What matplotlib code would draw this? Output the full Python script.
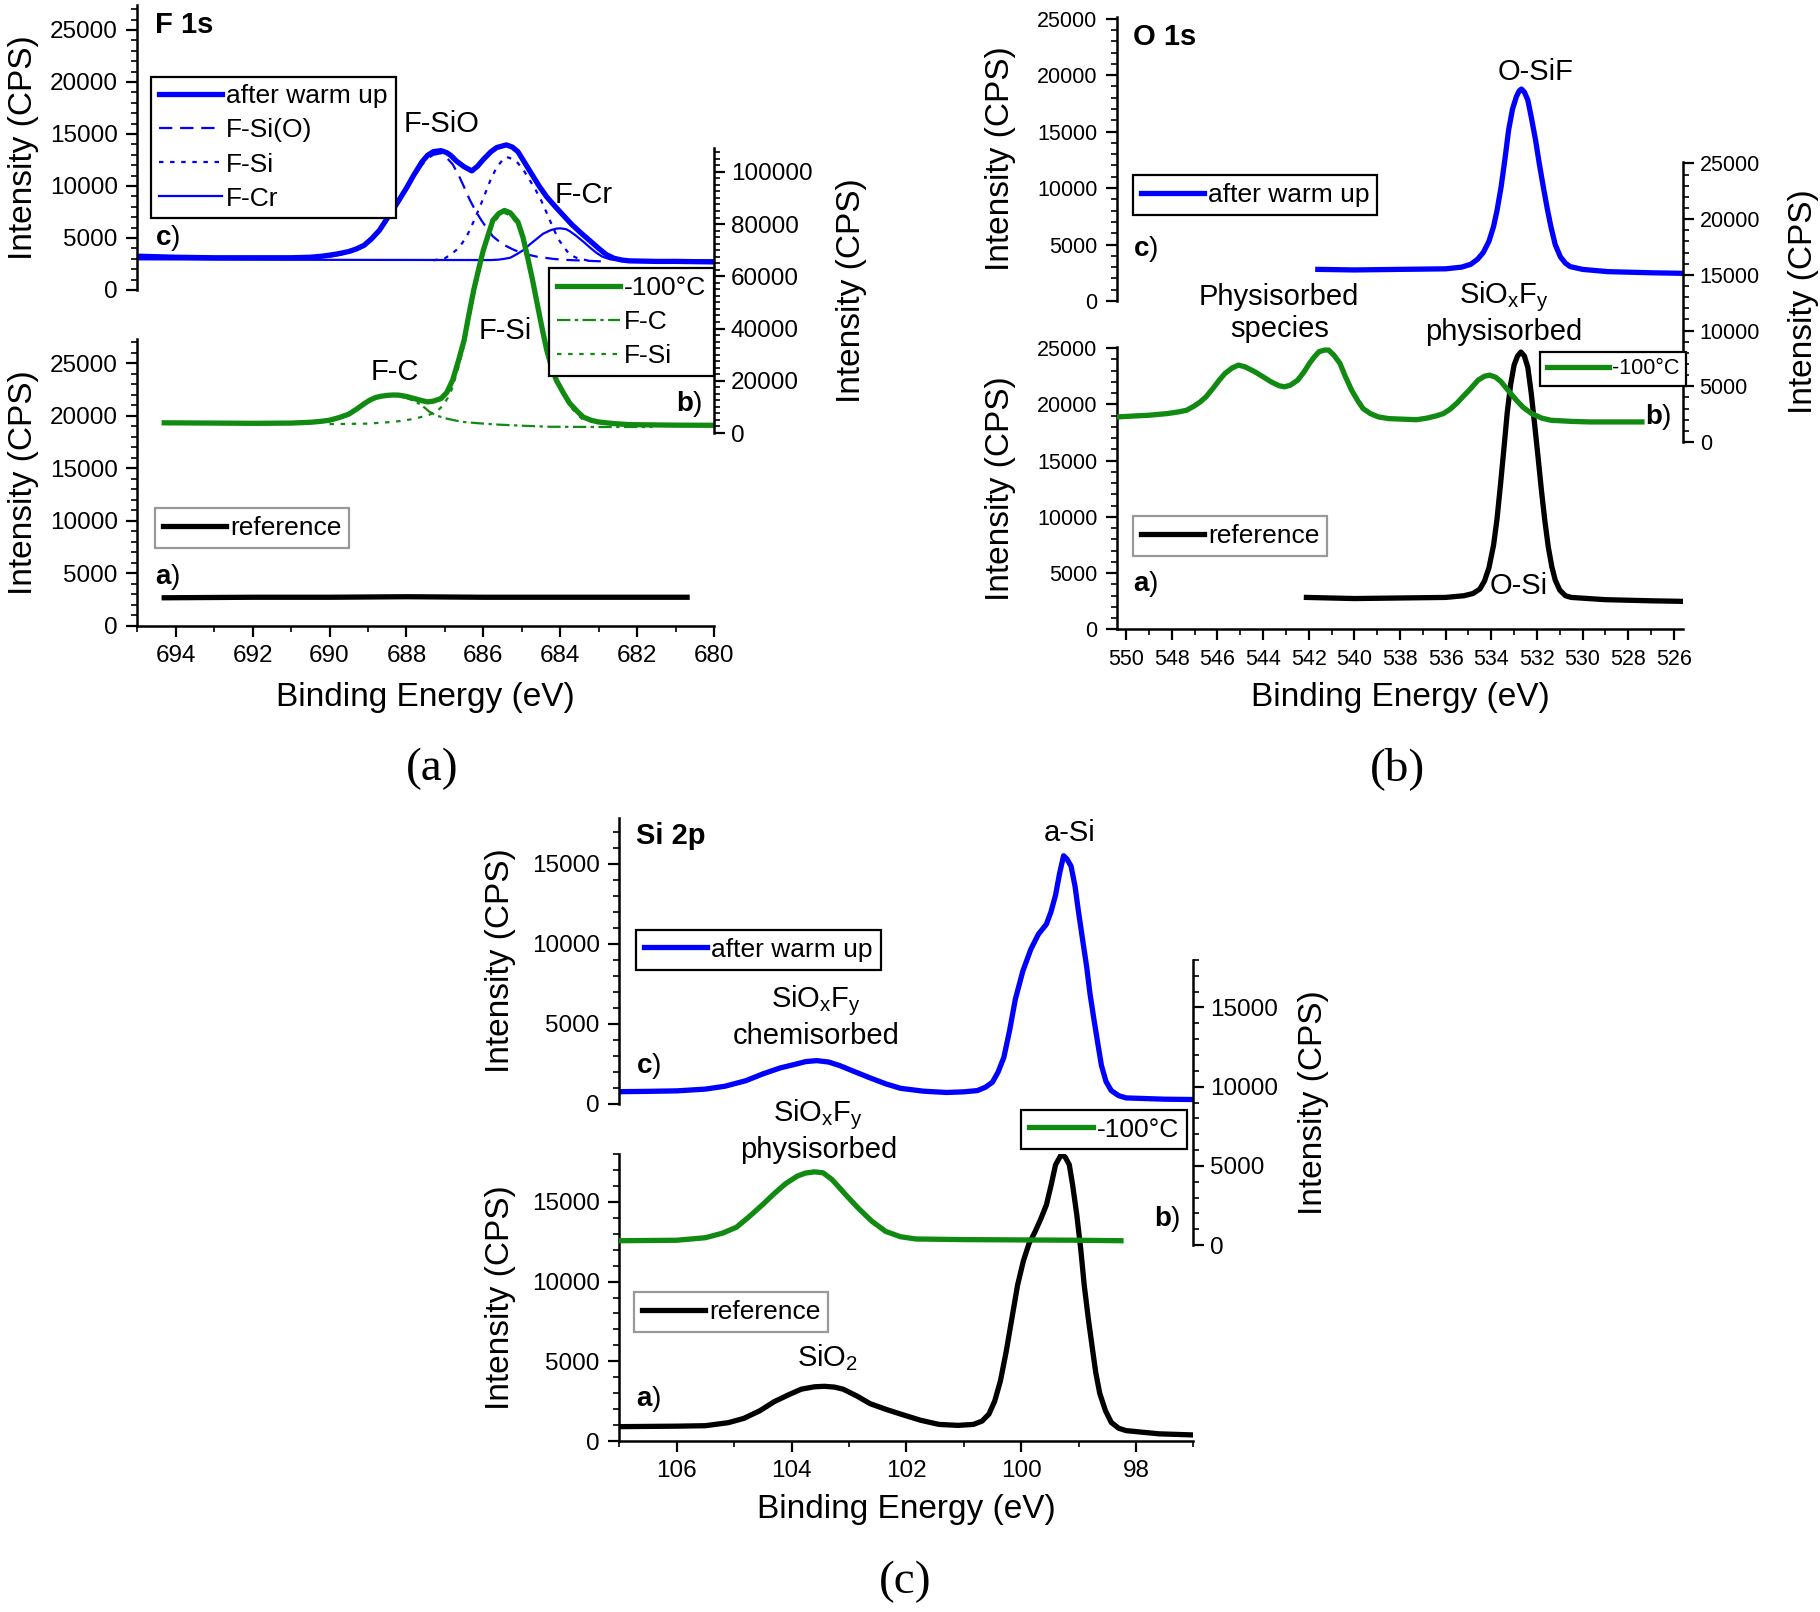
import matplotlib
matplotlib.use("Agg")
import matplotlib.pyplot as plt
from matplotlib.ticker import MultipleLocator, FormatStrFormatter

plt.rcParams['font.family'] = 'Liberation Sans'
plt.rcParams['mathtext.fontset'] = 'custom'
plt.rcParams['mathtext.rm'] = 'Liberation Sans'
plt.rcParams['mathtext.it'] = 'Liberation Sans:italic'
plt.rcParams['mathtext.bf'] = 'Liberation Sans:bold'

BLUE = '#0000ff'
GREEN = '#118a11'

# ---------------- F 1s ----------------
f_warm_x = [695, 694, 693, 692, 691, 690.5, 690.2, 690, 689.75, 689.5, 689.3, 689.1, 688.9, 688.7, 688.5, 688.25,
            688.0, 687.8, 687.6, 687.45, 687.3, 687.1, 686.95, 686.85, 686.7, 686.5, 686.3, 686.15, 686.0, 685.8,
            685.65, 685.4, 685.25, 685.1, 684.95, 684.75, 684.55, 684.35, 684.1, 683.9, 683.7, 683.45, 683.2, 683.0,
            682.8, 682.6, 682.4, 682.2, 681.5, 681, 680]
f_warm_y = [3250, 3150, 3100, 3100, 3100, 3150, 3250, 3350, 3500, 3700, 3950, 4300, 4950, 5750, 6900, 8300,
            9800, 11100, 12300, 12950, 13300, 13400, 13200, 12950, 12400, 11850, 11450, 11900, 12550, 13300,
            13700, 13950, 13750, 13300, 12400, 11200, 10000, 8950, 7900, 7100, 6300, 5450, 4650, 4000,
            3400, 3050, 2880, 2800, 2750, 2750, 2700]
f_sio_x = [690, 689.5, 689.1, 688.9, 688.7, 688.5, 688.25, 688.0, 687.8, 687.6, 687.45, 687.3, 687.1, 686.95,
           686.8, 686.65, 686.5, 686.35, 686.2, 686.05, 685.9, 685.75, 685.5, 685.2, 684.9, 684.6, 684.2, 683.9, 682.9]
f_sio_y = [3200, 3550, 4200, 4800, 5600, 6700, 8150, 9600, 10900, 12000, 12650, 13000, 13150, 12700,
           12100, 11100, 9900, 8650, 7600, 6700, 5900, 5150, 4400, 3850, 3450, 3200, 3000, 2900, 2750]
f_si_c_x = [687.3, 687.0, 686.85, 686.7, 686.55, 686.4, 686.25, 686.1, 685.95, 685.8, 685.65, 685.5, 685.4,
            685.25, 685.1, 684.95, 684.8, 684.65, 684.5, 684.35, 684.2, 684.05, 683.9, 683.75, 683.55, 683.3, 683.1]
f_si_c_y = [2850, 3050, 3400, 3850, 4500, 5400, 6600, 7900, 9300, 10700, 11800, 12500, 12800,
            12600, 12200, 11500, 10600, 9700, 8650, 7400, 6100, 4900, 4100, 3400, 3050, 2850, 2800]
f_cr_x = [695, 690, 686, 685.8, 685.6, 685.45, 685.3, 685.15, 684.95, 684.8, 684.6, 684.45, 684.25, 684.1, 684.0,
          683.85, 683.75, 683.6, 683.4, 683.2, 683.05, 682.9, 682.7, 682.5, 682, 680]
f_cr_y = [2950, 2900, 2880, 2880, 2920, 3000, 3100, 3400, 3850, 4350, 4950, 5400, 5750, 5900, 5930,
          5850, 5650, 5250, 4650, 4000, 3550, 3200, 2950, 2880, 2850, 2850]

f_cold_x = [694.3, 693, 692, 691, 690.5, 690.2, 690, 689.75, 689.5, 689.3, 689.1, 688.95, 688.8, 688.65, 688.5,
            688.35, 688.2, 688.0, 687.8, 687.6, 687.45, 687.3, 687.1, 686.95, 686.8, 686.65, 686.5, 686.38, 686.25,
            686.12, 686.0, 685.87, 685.75, 685.6, 685.45, 685.3, 685.1, 684.97, 684.85, 684.72, 684.6, 684.47,
            684.35, 684.22, 684.1, 683.9, 683.75, 683.55, 683.4, 683.2, 683.0, 682.6, 682.2, 681, 680]
f_cold_y = [3900, 3800, 3700, 3800, 4100, 4500, 4900, 5900, 7200, 9100, 11200, 12600, 13600, 14100, 14400,
            14550, 14500, 14000, 13200, 12400, 11900, 12200, 13200, 15500, 20200, 27500, 35500, 45000, 54700,
            62800, 70000, 76000, 81500, 84000, 85200, 84300, 80800, 75000, 67400, 58600, 49600, 40000,
            31700, 25000, 20200, 14900, 11300, 8200, 6100, 4900, 4200, 3600, 3200, 3000, 2950]
f_c_x = [690, 689.75, 689.5, 689.3, 689.1, 688.95, 688.8, 688.65, 688.5, 688.35, 688.2, 688.0, 687.8, 687.6,
         687.4, 687.2, 686.95, 686.7, 686.5, 686.1, 685.6, 685.0, 684.3, 683, 681.6]
f_c_y = [4600, 5600, 7000, 8900, 11000, 12400, 13300, 13900, 14200, 14300, 14100, 13400, 12300, 10600,
         8100, 6600, 5500, 4700, 4200, 3700, 3200, 2800, 2400, 2300, 2300]
f_si_b_x = [690, 689, 688.3, 687.8, 687.4, 687.2, 687.05, 686.9, 686.8, 686.65, 686.5, 686.38, 686.25, 686.12,
            686.0, 685.87, 685.75, 685.6, 685.45, 685.3, 685.1, 684.97, 684.85, 684.72, 684.6, 684.47, 684.35,
            684.22, 684.1, 683.9, 683.75, 683.55, 683.4]
f_si_b_y = [3400, 3600, 4300, 5400, 7000, 8400, 10500, 14000, 17500, 25000, 33500, 43000, 52700, 61000,
            68500, 74500, 80000, 83000, 84200, 83300, 79800, 74000, 66500, 57800, 48900, 39300, 31000,
            24300, 19500, 14000, 10300, 7000, 5000]

f_ref_x = [694.3, 692, 690, 688, 686, 684, 682, 680.7]
f_ref_y = [2650, 2700, 2700, 2750, 2700, 2700, 2700, 2700]

# ---------------- O 1s ----------------
o_warm_x = [541.6, 540, 538, 536, 535.3, 534.9, 534.6, 534.35, 534.1, 533.9, 533.75, 533.57, 533.4, 533.24,
            533.07, 532.9, 532.78, 532.68, 532.55, 532.4, 532.25, 532.06, 531.9, 531.72, 531.55, 531.39, 531.2,
            530.97, 530.75, 530.55, 530, 528.9, 527, 525.6]
o_warm_y = [2800, 2750, 2800, 2850, 3000, 3250, 3700, 4300, 5300, 6600, 8000, 10100, 12600, 15150,
            17000, 18100, 18600, 18770, 18500, 17800, 16300, 14250, 12200, 10100, 8200, 6600, 5000,
            3900, 3350, 3050, 2800, 2600, 2500, 2450]
o_cold_x = [550.4, 549.5, 549, 548.2, 547.7, 547.35, 547.0, 546.75, 546.5, 546.2, 545.9, 545.67, 545.35, 545.08,
            544.8, 544.55, 544.32, 544.0, 543.65, 543.3, 543.06, 542.8, 542.48, 542.2, 541.97, 541.75, 541.55,
            541.3, 541.13, 540.9, 540.63, 540.4, 540.12, 539.85, 539.62, 539.3, 538.95, 538.5, 537.9, 537.27,
            536.8, 536.4, 536.1, 535.8, 535.5, 535.25, 534.9, 534.58, 534.3, 534.07, 533.8, 533.57, 533.25,
            532.9, 532.6, 532.23, 531.8, 531.39, 530.5, 529.7, 528.5, 527.4]
o_cold_y = [2250, 2350, 2400, 2550, 2700, 2850, 3250, 3600, 4050, 4800, 5600, 6150, 6650, 6900,
            6750, 6500, 6250, 5850, 5400, 5050, 4950, 5100, 5550, 6300, 7050, 7650, 8100,
            8250, 8250, 7800, 7050, 5900, 4650, 3700, 3000, 2550, 2250, 2100, 2050, 2000,
            2150, 2350, 2550, 2950, 3500, 4050, 4800, 5550, 5900, 6000, 5800, 5400, 4600,
            3750, 3100, 2550, 2150, 1950, 1850, 1800, 1800, 1800]
o_ref_x = [542.1, 540, 538, 536, 535.2, 534.8, 534.5, 534.3, 534.1, 533.9, 533.75, 533.6, 533.45, 533.3, 533.15,
           533.0, 532.85, 532.7, 532.55, 532.4, 532.25, 532.1, 531.95, 531.8, 531.65, 531.5, 531.35, 531.2, 531.0,
           530.75, 530.5, 529, 527, 525.6]
o_ref_y = [2850, 2750, 2800, 2850, 3000, 3200, 3600, 4300, 5500, 7500, 9800, 12800, 16000, 19300, 21800,
           23500, 24300, 24650, 24300, 23300, 21000, 18200, 15300, 12300, 9600, 7300, 5600, 4400, 3500,
           3000, 2850, 2650, 2550, 2500]

# ---------------- Si 2p ----------------
si_warm_x = [107, 106.5, 106, 105.5, 105.16, 104.8, 104.5, 104.2, 103.96, 103.75, 103.56, 103.35, 103.16, 102.9,
             102.63, 102.35, 102.1, 101.7, 101.3, 101.0, 100.76, 100.62, 100.5, 100.4, 100.3, 100.2, 100.1, 99.97,
             99.83, 99.7, 99.56, 99.48, 99.4, 99.33, 99.26, 99.2, 99.13, 99.06, 99.0, 98.93, 98.86, 98.8, 98.73,
             98.66, 98.6, 98.52, 98.43, 98.3, 98.17, 97.5, 97]
si_warm_y = [770, 790, 820, 930, 1110, 1450, 1880, 2250, 2460, 2650, 2710, 2620, 2400, 2020,
             1630, 1250, 980, 800, 720, 760, 840, 1050, 1360, 2000, 2920, 4600, 6550, 8300,
             9670, 10600, 11230, 12000, 13050, 14400, 15510, 15300, 14860, 13600, 12010, 10300, 8630, 6900, 5260,
             3700, 2400, 1400, 840, 520, 380, 300, 280]
si_cold_x = [107, 106, 105.5, 105.2, 104.96, 104.75, 104.5, 104.3, 104.1, 103.9, 103.76, 103.6, 103.45, 103.3,
             103.23, 103.05, 102.83, 102.6, 102.36, 102.1, 101.83, 101.0, 100.0, 99.0, 98.26]
si_cold_y = [270, 300, 460, 750, 1120, 1750, 2560, 3250, 3880, 4350, 4540, 4620, 4560, 4150,
             3880, 3150, 2300, 1500, 860, 520, 380, 340, 320, 300, 270]
si_ref_x = [107, 106, 105.5, 105.1, 104.83, 104.55, 104.3, 104.05, 103.83, 103.6, 103.43, 103.25, 103.1, 102.85,
            102.63, 102.35, 102.1, 101.75, 101.43, 101.1, 100.83, 100.68, 100.56, 100.46, 100.36, 100.26, 100.16,
            100.06, 99.96, 99.86, 99.76, 99.66, 99.56, 99.48, 99.4, 99.3, 99.23, 99.16, 99.1, 99.03, 98.96, 98.9,
            98.83, 98.76, 98.7, 98.63, 98.53, 98.43, 98.3, 98.17, 97.6, 97]
si_ref_y = [900, 930, 960, 1150, 1420, 1900, 2470, 2900, 3250, 3400, 3430, 3380, 3250, 2800,
            2340, 1980, 1690, 1300, 1040, 980, 1040, 1250, 1690, 2500, 3770, 5600, 7700,
            9800, 11300, 12400, 13100, 13900, 14800, 16000, 17320, 17970, 17800, 17320, 16000, 14190, 12000, 9760,
            7700, 5860, 4300, 2990, 1900, 1170, 800, 650, 450, 380]

W, H = 1820, 1612
fig = plt.figure(figsize=(W / 100, H / 100), dpi=100)


def rect(x0, x1, y0, y1):
    return [x0 / W, 1 - y1 / H, (x1 - x0) / W, (y1 - y0) / H]


def style(ax, side, fs, pad):
    for s in ax.spines.values():
        s.set_visible(False)
        s.set_linewidth(1.8)
    ax.spines[side].set_visible(True)
    ax.patch.set_visible(False)
    ax.tick_params(which='major', length=8, width=1.6, labelsize=fs, pad=pad)
    ax.tick_params(which='minor', length=4, width=1.2)
    ax.yaxis.set_major_formatter(FormatStrFormatter('%d'))
    if side == 'right':
        ax.yaxis.tick_right()
        ax.yaxis.set_label_position('right')
    ax.tick_params(axis='x', bottom=False, labelbottom=False, which='both')


def panel(x0, x1, low, up, right, xlim, ylims, steps, fs):
    ax_low = fig.add_axes(rect(x0, x1, *low))
    ax_up = fig.add_axes(rect(x0, x1, *up))
    ax_r = fig.add_axes(rect(x0, x1, *right))
    for ax, side, yl, st in zip((ax_low, ax_up, ax_r), ('left', 'left', 'right'), ylims, steps):
        style(ax, side, fs, 6 if side == 'left' else 4)
        ax.set_xlim(xlim)
        ax.set_ylim(yl)
        ax.yaxis.set_major_locator(MultipleLocator(st[0]))
        ax.yaxis.set_minor_locator(MultipleLocator(st[1]))
        ax.set_ylabel('Intensity (CPS)', fontsize=24)
    ax_low.spines['bottom'].set_visible(True)
    ax_low.tick_params(axis='x', bottom=True, labelbottom=True, which='both')
    ax_low.xaxis.set_major_locator(MultipleLocator(2))
    ax_low.xaxis.set_minor_locator(MultipleLocator(1))
    ax_low.xaxis.set_major_formatter(FormatStrFormatter('%d'))
    ax_low.set_xlabel('Binding Energy (eV)', fontsize=24)
    return ax_low, ax_up, ax_r


def legend(ax, anchor, edge='black', fs=19, hl=2.4):
    lg = ax.legend(loc='upper left', bbox_to_anchor=anchor, borderaxespad=0, fontsize=fs,
                   handlelength=hl, handletextpad=0.15, borderpad=0.3, labelspacing=0.38,
                   fancybox=False, framealpha=1, edgecolor=edge)
    lg.get_frame().set_linewidth(1.6)
    return lg


LW = 3.8
TXT = 21

# ---- panel (a): F 1s ----
a_low, a_up, a_r = panel(137.3, 714, (339, 625.6), (5, 290), (148.3, 433), (695, 680),
                         [(0, 27300), (0, 27400), (0, 109000)],
                         [(5000, 1000), (5000, 1000), (20000, 2500)], 17.5)
a_low.plot(f_ref_x, f_ref_y, color='black', lw=LW, label='reference')
a_up.plot(f_warm_x, f_warm_y, color=BLUE, lw=LW, label='after warm up')
a_up.plot(f_sio_x, f_sio_y, color=BLUE, lw=1.6, dashes=(6, 3.5), label='F-Si(O)')
a_up.plot(f_si_c_x, f_si_c_y, color=BLUE, lw=1.6, dashes=(2, 3), label='F-Si')
a_up.plot(f_cr_x, f_cr_y, color=BLUE, lw=1.6, label='F-Cr')
a_r.plot(f_cold_x, f_cold_y, color=GREEN, lw=LW, label='-100°C')
a_r.plot(f_c_x, f_c_y, color=GREEN, lw=1.6, dashes=(6, 2, 1.5, 2), label='F-C')
a_r.plot(f_si_b_x, f_si_b_y, color=GREEN, lw=1.6, dashes=(2, 3), label='F-Si')
legend(a_up, (0.024, 0.749))
legend(a_r, (0.714, 0.58))
legend(a_low, (0.03, 0.409), edge='#999999')
a_up.text(694.55, 25500, 'F 1s', fontsize=TXT, fontweight='bold', va='center')
a_up.text(687.09, 15960, 'F-SiO', fontsize=TXT, ha='center', va='center')
a_up.text(683.4, 9130, 'F-Cr', fontsize=TXT, ha='center', va='center')
a_r.text(685.42, 39040, 'F-Si', fontsize=TXT, ha='center', va='center')
a_r.text(688.3, 23490, 'F-C', fontsize=TXT, ha='center', va='center')
a_up.text(694.55, 5000, r'$\mathbf{c}$)', fontsize=20, va='center')
a_r.text(680.29, 11000, r'$\mathbf{b}$)', fontsize=20, ha='right', va='center')
a_low.text(694.55, 4630, r'$\mathbf{a}$)', fontsize=20, va='center')
for ax in (a_low, a_up):
    ax.yaxis.set_label_coords(-0.1705, 0.5)
a_r.yaxis.set_label_coords(1.2115, 0.5)
a_low.xaxis.set_label_coords(0.5, -0.197)

# ---- panel (b): O 1s ----
b_low, b_up, b_r = panel(1117, 1683, (347, 629.5), (17, 301), (161.7, 442), (550.4, 525.6),
                         [(0, 25100), (0, 25150), (0, 25150)],
                         [(5000, 1000), (5000, 1000), (5000, 1000)], 15.5)
b_low.plot(o_ref_x, o_ref_y, color='black', lw=LW, label='reference')
b_up.plot(o_warm_x, o_warm_y, color=BLUE, lw=LW, label='after warm up')
b_r.plot(o_cold_x, o_cold_y, color=GREEN, lw=LW, label='-100°C')
legend(b_up, (0.028, 0.4426))
legend(b_r, (0.748, 0.322), fs=15.5, hl=2.9)
legend(b_low, (0.028, 0.400), edge='#999999')
b_up.text(549.71, 23400, 'O 1s', fontsize=TXT, fontweight='bold', va='center')
b_up.text(532.08, 20300, 'O-SiF', fontsize=TXT, ha='center', va='center')
b_up.text(543.29, -1060, 'Physisorbed\nspecies', fontsize=TXT, ha='center', va='center')
b_up.text(533.45, -1060, 'SiO$_\\mathrm{x}$F$_\\mathrm{y}$\nphysisorbed', fontsize=TXT, ha='center', va='center')
b_low.text(532.8, 3860, 'O-Si', fontsize=TXT, ha='center', va='center')
b_up.text(549.71, 4570, r'$\mathbf{c}$)', fontsize=20, va='center')
b_r.text(526.08, 2240, r'$\mathbf{b}$)', fontsize=20, ha='right', va='center')
b_low.text(549.71, 4060, r'$\mathbf{a}$)', fontsize=20, va='center')
for ax in (b_low, b_up):
    ax.yaxis.set_label_coords(-0.178, 0.5)
b_r.yaxis.set_label_coords(1.1855, 0.5)
b_low.xaxis.set_label_coords(0.5, -0.186)

# ---- panel (c): Si 2p ----
c_low, c_up, c_r = panel(619.3, 1193.3, (1154, 1441), (817.5, 1104), (960, 1245), (107, 97),
                         [(0, 18000), (0, 17900), (0, 18000)],
                         [(5000, 1000), (5000, 1000), (5000, 1000)], 17.5)
c_low.plot(si_ref_x, si_ref_y, color='black', lw=LW, label='reference')
c_up.plot(si_warm_x, si_warm_y, color=BLUE, lw=LW, label='after warm up')
c_r.plot(si_cold_x, si_cold_y, color=GREEN, lw=LW, label='-100°C')
legend(c_up, (0.029, 0.608))
legend(c_r, (0.7005, 0.475))
legend(c_low, (0.025, 0.5195), edge='#999999')
c_up.text(106.71, 16770, 'Si 2p', fontsize=TXT, fontweight='bold', va='center')
c_up.text(99.15, 16910, 'a-Si', fontsize=TXT, ha='center', va='center')
c_up.text(103.57, 5450, 'SiO$_\\mathrm{x}$F$_\\mathrm{y}$\nchemisorbed', fontsize=TXT, ha='center', va='center')
c_up.text(103.53, -1660, 'SiO$_\\mathrm{x}$F$_\\mathrm{y}$\nphysisorbed', fontsize=TXT, ha='center', va='center')
c_low.text(103.37, 5210, 'SiO$_2$', fontsize=TXT, ha='center', va='center')
c_up.text(106.71, 2400, r'$\mathbf{c}$)', fontsize=20, va='center')
c_r.text(97.22, 1670, r'$\mathbf{b}$)', fontsize=20, ha='right', va='center')
c_low.text(106.71, 2660, r'$\mathbf{a}$)', fontsize=20, va='center')
for ax in (c_low, c_up):
    ax.yaxis.set_label_coords(-0.18, 0.5)
c_r.yaxis.set_label_coords(1.1824, 0.5)
c_low.xaxis.set_label_coords(0.5, -0.186)

for lab, (px, py) in zip(['(a)', '(b)', '(c)'], [(431.8, 768.4), (1397.5, 768.4), (905.4, 1582)]):
    fig.text(px / W, 1 - py / H, lab, ha='center', va='center', fontsize=34, family='Liberation Serif')

fig.savefig('out.png', dpi=100, facecolor='white')
